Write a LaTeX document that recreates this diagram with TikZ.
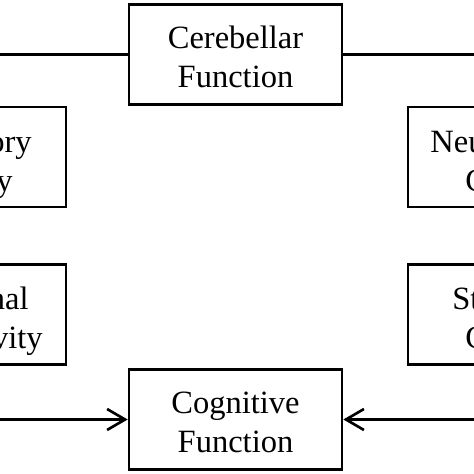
\documentclass[tikz,border=0pt]{standalone}
\usepackage{fontspec}
\setmainfont{Liberation Serif}
\usetikzlibrary{arrows.meta, positioning}

\begin{document}
\begin{tikzpicture}[
  box/.style={draw, line width=1.5pt, minimum width=4.26cm, minimum height=2cm, align=center, inner sep=0pt, font=\fontsize{18.5}{22.2}\selectfont},
  frag/.style={inner sep=0pt, font=\fontsize{18.5}{22.2}\selectfont},
  link/.style={line width=1.5pt},
  barb/.style={line width=1.5pt, -{Straight Barb[length=0.36cm, width=0.42cm]}}
]
\useasboundingbox (0,0) rectangle (9.48,9.48);
\clip (0,0) rectangle (9.48,9.48);

\coordinate (lft) at (-0.1,0);
\coordinate (rgt) at (9.58,0);

\node [box] (cere) at (4.71,8.39) {\rule{0pt}{0.54cm}Cerebellar\\Function};
\node [box] (cog) at (4.71,1.09) {\rule{0pt}{0.54cm}Cognitive\\Function};

% side boxes, cut by the edge
\node [box] (sens) at (-0.81,6.34) {};
\node [box] (fconn) at (-0.81,3.19) {};
\node [box] (neuro) at (10.29,6.34) {};
\node [box] (sconn) at (10.29,3.19) {};

\node [frag, anchor=base east] (sens1) at (0.64,6.42) {ory};
\node [frag, anchor=base east] (sens2) at (0.26,5.64) {y};
\node [frag, anchor=base east] (fconn1) at (0.58,3.28) {nal};
\node [frag, anchor=base east] (fconn2) at (0.86,2.50) {vity};
\node [frag, anchor=base west] (neuro1) at (8.60,6.42) {Neu};
\node [frag, anchor=base west] (neuro2) at (9.30,5.64) {C};
\node [frag, anchor=base west] (sconn1) at (9.04,3.28) {St};
\node [frag, anchor=base west] (sconn2) at (9.30,2.50) {C};

\draw [link] (lft |- cere.west) -- (cere.west);
\draw [link] (cere.east) -- (rgt |- cere.east);

\draw [barb] (lft |- cog.west) -- (cog.west);
\draw [barb] (rgt |- cog.east) -- (cog.east);
\end{tikzpicture}
\end{document}
